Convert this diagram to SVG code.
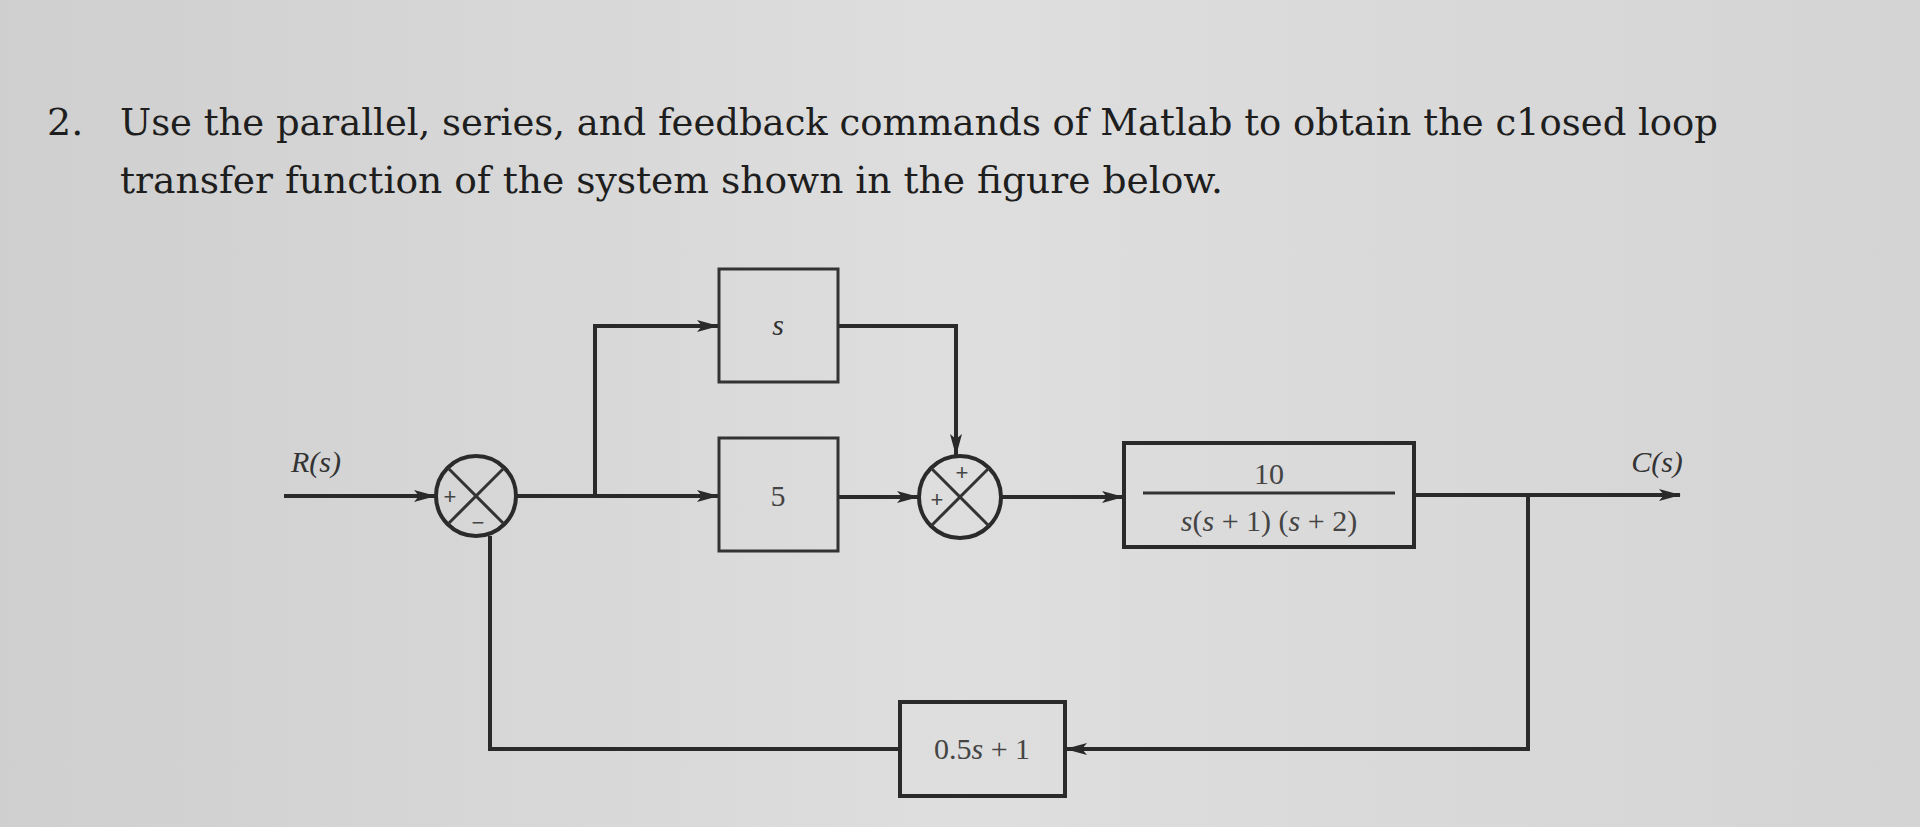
<svg xmlns="http://www.w3.org/2000/svg" width="1920" height="827" viewBox="0 0 1920 827">
<defs>
<linearGradient id="bg" x1="0" y1="0" x2="1" y2="0"><stop offset="0" stop-color="#cfcfcf"/><stop offset="0.5" stop-color="#dedede"/><stop offset="1" stop-color="#d4d4d4"/></linearGradient>
<marker id="ar" markerWidth="22" markerHeight="12" refX="21" refY="6" orient="auto" markerUnits="userSpaceOnUse"><path d="M0,0 L22,6 L0,12 L5,6 Z" fill="#2a2a2a"/></marker>
</defs>
<style>
.t{font-family:"DejaVu Serif","Liberation Serif",serif;font-size:38px;fill:#1e1e1e}
.b{fill:none;stroke:#333;stroke-width:3}
.w{fill:none;stroke:#2a2a2a;stroke-width:4}
.l{font-family:"Liberation Serif",serif;font-size:30px;fill:#333;font-style:italic}
.n{font-family:"Liberation Serif",serif;font-size:30px;fill:#444}
.sg{font-family:"Liberation Sans",sans-serif;font-size:22px;fill:#444}
</style>
<rect width="1920" height="827" fill="url(#bg)"/>
<text class="t" x="47" y="135">2.</text>
<text class="t" x="120" y="135" textLength="1598" lengthAdjust="spacingAndGlyphs">Use the parallel, series, and feedback commands of Matlab to obtain the c1osed loop</text>
<text class="t" x="120" y="193" textLength="1103" lengthAdjust="spacingAndGlyphs">transfer function of the system shown in the figure below.</text>
<g id="connectors">
<line class="w" x1="284" y1="496" x2="435" y2="496" marker-end="url(#ar)"/>
<line class="w" x1="516" y1="496" x2="718" y2="496" marker-end="url(#ar)"/>
<polyline class="w" points="595,496 595,326 718,326" marker-end="url(#ar)"/>
<polyline class="w" points="838,326 956,326 956,455" marker-end="url(#ar)"/>
<line class="w" x1="838" y1="497" x2="918" y2="497" marker-end="url(#ar)"/>
<line class="w" x1="1001" y1="497" x2="1123" y2="497" marker-end="url(#ar)"/>
<line class="w" x1="1414" y1="495" x2="1680" y2="495" marker-end="url(#ar)"/>
<polyline class="w" points="1528,495 1528,749 1066,749" marker-end="url(#ar)"/>
<polyline class="w" points="900,749 490,749 490,536"/>
</g>
<g id="sum1">
<circle class="w" cx="476" cy="496" r="40"/>
<line class="b" x1="448" y1="468" x2="504" y2="524"/><line class="b" x1="504" y1="468" x2="448" y2="524"/>
<text class="sg" x="450" y="504" text-anchor="middle">+</text>
<text class="sg" x="478" y="530" text-anchor="middle">−</text>
</g>
<g id="sum2">
<circle class="w" cx="960" cy="497" r="41"/>
<line class="b" x1="931" y1="468" x2="989" y2="526"/><line class="b" x1="989" y1="468" x2="931" y2="526"/>
<text class="sg" x="962" y="480" text-anchor="middle">+</text>
<text class="sg" x="937" y="507" text-anchor="middle">+</text>
</g>
<g id="blockS"><rect class="b" x="719" y="269" width="119" height="113"/><text class="l" x="778" y="335" text-anchor="middle" font-size="18">s</text></g>
<g id="block5"><rect class="b" x="719" y="438" width="119" height="113"/><text class="n" x="778" y="506" text-anchor="middle">5</text></g>
<g id="plant"><rect class="w" x="1124" y="443" width="290" height="104"/>
<text class="n" x="1269" y="484" text-anchor="middle">10</text>
<line class="b" x1="1143" y1="493" x2="1395" y2="493"/>
<text class="n" x="1269" y="531" text-anchor="middle"><tspan font-style="italic">s</tspan>(<tspan font-style="italic">s</tspan> + 1) (<tspan font-style="italic">s</tspan> + 2)</text></g>
<g id="feedback"><rect class="w" x="900" y="702" width="165" height="94"/><text class="n" x="982" y="759" text-anchor="middle">0.5<tspan font-style="italic">s</tspan> + 1</text></g>
<text class="l" x="316" y="472" text-anchor="middle">R(s)</text>
<text class="l" x="1657" y="472" text-anchor="middle">C(s)</text>
</svg>
